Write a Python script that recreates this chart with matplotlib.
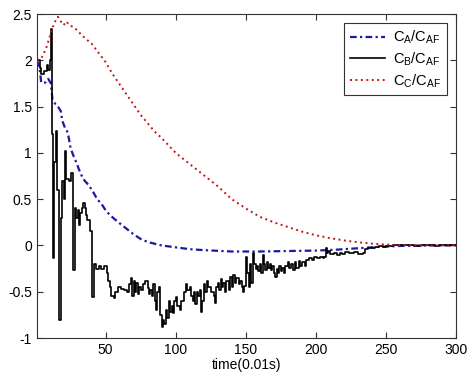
import matplotlib
matplotlib.use("Agg")
import matplotlib.pyplot as plt
import numpy as np

plt.rcParams['font.family'] = ['Liberation Sans', 'DejaVu Sans']
plt.rcParams['mathtext.fontset'] = 'custom'
plt.rcParams['mathtext.rm'] = 'Liberation Sans'
plt.rcParams['mathtext.it'] = 'Liberation Sans'

# C_A / C_AF (blue dash-dot)
t_a = [1, 3, 4, 7, 9, 11, 12, 14, 16, 18, 19, 21, 23, 25, 27, 29, 31, 33, 35, 38,
       41, 44, 47, 50, 53, 56, 60, 65, 70, 76, 82, 90, 100, 110, 120, 140, 160,
       180, 200, 215, 230, 245, 260, 275, 300]
c_a = [2.0, 1.9, 1.76, 1.76, 1.8, 1.75, 1.58, 1.53, 1.5, 1.45, 1.35, 1.27, 1.22,
       1.05, 0.97, 0.9, 0.82, 0.75, 0.7, 0.65, 0.58, 0.5, 0.45, 0.38, 0.33, 0.29,
       0.24, 0.18, 0.12, 0.06, 0.03, 0.0, -0.02, -0.04, -0.05, -0.065, -0.065,
       -0.06, -0.055, -0.045, -0.03, -0.015, -0.005, 0.0, 0.0]

# C_B / C_AF (black, noisy)
t_b = [1, 3, 4, 6, 8, 9, 10, 11, 12, 12.5, 13.5, 14.5, 15.5, 16.5, 18, 19, 20, 21,
       22, 24, 25, 26.5, 27, 28, 29, 30, 31, 32, 33, 34, 35, 36, 37, 39, 40.5,
       41.5, 43, 45, 47, 49, 51, 52, 53, 54, 56, 57, 59, 61, 63, 65, 67, 68, 69,
       70, 71, 72, 73, 74, 75, 77, 78, 80, 81, 82, 83, 84, 85, 86, 87, 88, 89, 90,
       91, 92, 93, 94, 95, 96, 97, 98, 99, 100, 101, 103, 104, 106, 107, 108, 110,
       111, 112, 113, 114, 115, 116, 117, 118, 119, 120, 121, 122, 123, 125, 127,
       128, 129, 130, 131, 132, 133, 134, 135, 136, 138, 139, 140, 141, 142, 143,
       145, 146, 147, 148, 149, 150, 151, 152, 153, 154, 155, 156, 157, 158, 159,
       160, 161, 162, 163, 164, 165, 166, 167, 168, 169, 170, 171, 172, 173, 174,
       175, 176, 177, 178, 180, 181, 182, 184, 185, 186, 188, 189, 190, 192, 193,
       195, 197, 199, 201, 203, 205, 206, 207, 208, 209, 210, 213, 215, 217, 219,
       221, 224, 227, 230, 234, 235, 237, 240, 242, 245, 248, 250, 255, 270, 275,
       285, 288, 300]
c_b = [2.0, 1.92, 1.85, 1.88, 1.95, 1.9, 2.0, 2.34, 1.2, -0.13, 0.9, 1.24, 0.6,
       -0.81, 0.3, 0.7, 0.5, 1.02, 0.72, 0.7, 0.78, 0.55, -0.27, 0.41, 0.3, 0.38,
       0.22, 0.35, 0.4, 0.46, 0.4, 0.33, 0.27, 0.16, -0.56, -0.2, -0.25, -0.22,
       -0.25, -0.22, -0.3, -0.38, -0.45, -0.55, -0.57, -0.5, -0.45, -0.47, -0.48,
       -0.5, -0.42, -0.35, -0.55, -0.38, -0.5, -0.4, -0.52, -0.45, -0.48, -0.42,
       -0.38, -0.46, -0.52, -0.48, -0.55, -0.42, -0.6, -0.7, -0.5, -0.45, -0.75,
       -0.88, -0.8, -0.85, -0.7, -0.78, -0.6, -0.72, -0.65, -0.73, -0.6, -0.56,
       -0.65, -0.7, -0.6, -0.5, -0.42, -0.48, -0.45, -0.55, -0.6, -0.5, -0.63,
       -0.5, -0.55, -0.48, -0.72, -0.6, -0.42, -0.5, -0.38, -0.45, -0.5, -0.55,
       -0.62, -0.45, -0.4, -0.48, -0.36, -0.45, -0.4, -0.5, -0.38, -0.48, -0.34,
       -0.45, -0.32, -0.4, -0.35, -0.42, -0.38, -0.45, -0.5, -0.44, -0.12, -0.3,
       -0.45, -0.2, -0.4, -0.08, -0.2, -0.25, -0.22, -0.28, -0.2, -0.3, -0.1,
       -0.2, -0.26, -0.18, -0.24, -0.2, -0.26, -0.22, -0.3, -0.34, -0.25, -0.3,
       -0.22, -0.28, -0.24, -0.3, -0.22, -0.18, -0.24, -0.2, -0.26, -0.18, -0.24,
       -0.17, -0.22, -0.18, -0.22, -0.16, -0.13, -0.16, -0.12, -0.14, -0.12,
       -0.14, -0.12, -0.03, -0.08, -0.06, -0.09, -0.08, -0.1, -0.08, -0.09, -0.07,
       -0.08, -0.07, -0.09, -0.08, -0.04, -0.03, -0.03, -0.02, -0.01, -0.02,
       -0.01, 0.0, -0.01, 0.0, -0.01, 0.0, 0.0]

# C_C / C_AF (red dotted)
t_c = [1, 4, 6, 8, 10, 12, 14, 16, 18, 20, 22, 24, 27, 30, 33, 36, 40, 45, 50, 55,
       60, 65, 70, 75, 80, 85, 90, 95, 100, 110, 120, 130, 140, 150, 160, 170,
       180, 190, 200, 210, 220, 230, 240, 250, 260, 270, 300]
c_c = [2.0, 2.02, 2.08, 2.15, 2.25, 2.35, 2.42, 2.47, 2.42, 2.38, 2.42, 2.38,
       2.36, 2.32, 2.27, 2.23, 2.18, 2.08, 1.98, 1.85, 1.74, 1.63, 1.52, 1.41,
       1.32, 1.23, 1.16, 1.08, 1.0, 0.88, 0.76, 0.64, 0.5, 0.4, 0.31, 0.25, 0.2,
       0.15, 0.11, 0.08, 0.055, 0.035, 0.02, 0.01, 0.005, 0.0, 0.0]

x_ticks = [50, 100, 150, 200, 250, 300]
y_ticks = [-1, -0.5, 0, 0.5, 1, 1.5, 2, 2.5]
y_labels = ["-1", "-0.5", "0", "0.5", "1", "1.5", "2", "2.5"]

fig = plt.figure(figsize=(4.74, 3.79), dpi=100)
ax = fig.add_axes([0.078, 0.108, 0.884, 0.855])

ax.plot(t_a, c_a, color='#1a1a9c', linestyle=(0, (3, 1.5, 1, 1.5)), linewidth=1.6,
        label=r'$\mathregular{C_A/C_{AF}}$')
ax.plot(t_b, c_b, color='black', linewidth=1.2, drawstyle='steps-post',
        label=r'$\mathregular{C_B/C_{AF}}$')
ax.plot(t_c, c_c, color='#c01818', linestyle=(0, (1, 1.8)), linewidth=1.4,
        label=r'$\mathregular{C_C/C_{AF}}$')

ax.set_xlim(1, 300)
ax.set_ylim(-1, 2.5)
ax.set_xticks(x_ticks)
ax.set_yticks(y_ticks)
ax.set_yticklabels(y_labels)
ax.tick_params(direction='in', top=True, right=True, labelsize=10,
               length=4, color='#333333')
for s in ax.spines.values():
    s.set_color('#333333')
ax.set_xlabel('time(0.01s)', fontsize=10, labelpad=1)

leg = ax.legend(loc='upper right', fontsize=10.5, handlelength=2.4,
                fancybox=False, framealpha=1, borderaxespad=0.6,
                labelspacing=0.3, handletextpad=0.6)
leg.get_frame().set_edgecolor('#333333')
leg.get_frame().set_linewidth(0.8)

fig.savefig('out.png', dpi=100)
